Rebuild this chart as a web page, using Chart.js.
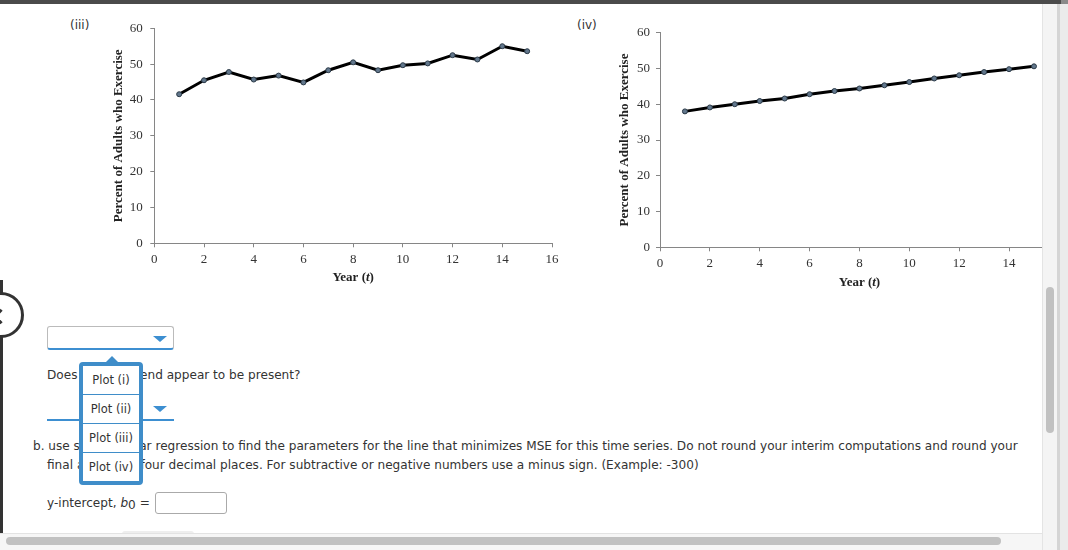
<!DOCTYPE html>
<html lang="en">
    <head>
        <meta charset="UTF-8">
        <title>Exercise time series</title>
        <style>
        html, body {
            margin: 0;
            padding: 0;
        }
        body {
            width: 1068px;
            height: 550px;
            overflow: hidden;
            position: relative;
            background: white;
            font-family: "DejaVu Sans", Verdana, sans-serif;
            font-size: 12.1px;
            color: #333;
        }
        .abs {
            position: absolute;
        }
        .line {
            position: absolute;
            white-space: nowrap;
            line-height: 16px;
        }
        .plot-label {
            position: absolute;
            font-size: 12px;
            color: #333;
        }
        .select {
            position: absolute;
            left: 47px;
            width: 127px;
            box-sizing: border-box;
        }
        .arrow {
            position: absolute;
            width: 0;
            height: 0;
            border-left: 7px solid transparent;
            border-right: 7px solid transparent;
            border-top: 6px solid #3d8fd1;
        }
        .popup {
            position: absolute;
            left: 79px;
            top: 362px;
            width: 64px;
            height: 123px;
            box-sizing: border-box;
            border: 4px solid #3f8dc9;
            border-radius: 4px;
            background: white;
        }
        .popup div {
            height: 28px;
            line-height: 28px;
            text-align: center;
            border-bottom: 1px solid #3f8dc9;
            font-size: 11.5px;
        }
        .popup div:last-child {
            border-bottom: none;
        }
        </style>
        <script src="https://cdn.jsdelivr.net/npm/chart.js"></script>
    </head>
    <body>
        <!-- window chrome -->
        <div class="abs" style="left:0;top:0;width:1061px;height:4px;background:#4b4b4b"></div>
        <div class="abs" style="left:1061px;top:0;width:7px;height:4px;background:#8a8a8a"></div>

        <div class="plot-label" style="left:70px;top:18px">(iii)</div>
        <div class="plot-label" style="left:577px;top:18px">(iv)</div>

        <div class="abs" style="left:100px;top:0;width:480px;height:300px">
            <canvas id="chart3" width="480" height="300"></canvas>
        </div>
        <div class="abs" style="left:590px;top:0;width:452px;height:300px;overflow:hidden">
            <canvas id="chart4" width="500" height="300"></canvas>
        </div>

        <!-- nav button on the left edge -->
        <div class="abs" style="left:0;top:280px;width:3px;height:253px;background:#333"></div>
        <div class="abs" style="left:-22px;top:292px;width:40px;height:40px;border:3px solid #333;border-radius:50%;background:white"></div>
        <div class="abs" style="left:-5px;top:311px;width:8px;height:8px;border-left:3px solid #333;border-bottom:3px solid #333;transform:rotate(45deg)"></div>

        <!-- question form -->
        <div class="select" style="top:326px;height:24px;border:1px solid #bbb;border-bottom:2px solid #3d8fd1;border-radius:3px"></div>
        <div class="arrow" style="left:153px;top:336px"></div>

        <div class="line" style="left:47px;top:367px">Does a linear trend appear to be present?</div>

        <div class="select" style="top:419px;height:2px;background:#3d8fd1"></div>
        <div class="arrow" style="left:153px;top:406px"></div>

        <div class="line" style="left:33px;top:438px">b. use simple linear regression to find the parameters for the line that minimizes MSE for this time series. Do not round your interim computations and round your</div>
        <div class="line" style="left:47px;top:457px">final answer to four decimal places. For subtractive or negative numbers use a minus sign. (Example: -300)</div>

        <div class="line" style="left:47px;top:495px">y-intercept, <i>b</i><span style="position:relative;top:2px">0</span> =</div>
        <div class="abs" style="left:155px;top:492px;width:72px;height:22px;box-sizing:border-box;border:1px solid #aaa;border-radius:3px"></div>

        <div class="abs" style="left:106px;top:356px;width:0;height:0;border-left:6px solid transparent;border-right:6px solid transparent;border-bottom:6px solid #3f8dc9"></div>
        <div class="popup">
            <div>Plot (i)</div>
            <div>Plot (ii)</div>
            <div>Plot (iii)</div>
            <div>Plot (iv)</div>
        </div>

        <!-- bottom and right scroll areas -->
        <div class="abs" style="left:122px;top:531px;width:72px;height:3px;background:#eee;border-radius:3px 3px 0 0"></div>
        <div class="abs" style="left:0;top:533px;width:1042px;height:17px;background:#f6f6f6;border-top:1px solid #e3e3e3"></div>
        <div class="abs" style="left:6px;top:537px;width:995px;height:8px;background:#c1c1c1;border-radius:4px"></div>
        <div class="abs" style="left:1042px;top:4px;width:15px;height:546px;background:#f4f4f4;border-left:1px solid #e4e4e4"></div>
        <div class="abs" style="left:1057px;top:4px;width:3px;height:546px;background:#d5d5d5"></div>
        <div class="abs" style="left:1060px;top:4px;width:8px;height:546px;background:#ebebeb"></div>
        <div class="abs" style="left:1046px;top:287px;width:8px;height:146px;background:#c1c1c1;border-radius:4px"></div>

        <script>
        const years = [1, 2, 3, 4, 5, 6, 7, 8, 9, 10, 11, 12, 13, 14, 15];
        // plot (iii): percent of adults who exercise, bumpy upward trend
        const exerciseIII = [41.6, 45.5, 47.8, 45.7, 46.8, 44.9, 48.3, 50.5, 48.3, 49.7, 50.2, 52.5, 51.3, 55.0, 53.6];
        // plot (iv): steady linear trend
        const exerciseIV = [38.0, 39.1, 40.0, 40.9, 41.6, 42.8, 43.7, 44.4, 45.3, 46.2, 47.2, 48.1, 49.0, 49.8, 50.6];
        const yTitle = 'Percent of Adults who Exercise';
        // x title pieces: "Year (" + italic "t" + ")"
        const xTitleParts = ['Year (', 't', ')'];

        const AXIS = '#868686';
        const SERIF = '"Liberation Serif", "Times New Roman", serif';
        const TICK_FONT = {family: SERIF, size: 13};
        const TITLE_FONT = {family: SERIF, size: 13, weight: 'bold'};

        // draws the x axis title with the italic t, centred under the plot area
        const xTitlePlugin = {
            id: 'xTitle',
            afterDraw(chart, args, opts) {
                const ctx = chart.ctx;
                const fonts = ['bold 13px ' + SERIF, 'italic bold 13px ' + SERIF, 'bold 13px ' + SERIF];
                const widths = xTitleParts.map((p, i) => { ctx.font = fonts[i]; return ctx.measureText(p).width; });
                const total = widths.reduce((a, b) => a + b, 0);
                let x = (chart.chartArea.left + chart.chartArea.right) / 2 - total / 2;
                ctx.save();
                ctx.fillStyle = '#222';
                ctx.textBaseline = 'middle';
                ctx.textAlign = 'left';
                xTitleParts.forEach((p, i) => {
                    ctx.font = fonts[i];
                    ctx.fillText(p, x, opts.y);
                    x += widths[i];
                });
                ctx.restore();
            }
        };

        function makeChart(id, values, cfg) {
            return new Chart(document.getElementById(id), {
                type: 'scatter',
                data: {
                    datasets: [{
                        data: years.map((t, i) => ({x: t, y: values[i]})),
                        showLine: true,
                        borderColor: '#000',
                        borderWidth: 3,
                        pointRadius: 2.5,
                        pointBackgroundColor: '#62778c',
                        pointBorderColor: '#2a3947',
                        pointBorderWidth: 1,
                    }]
                },
                plugins: [xTitlePlugin],
                options: {
                    responsive: false,
                    animation: false,
                    layout: {
                        padding: cfg.padding
                    },
                    plugins: {
                        legend: {display: false},
                        tooltip: {enabled: false},
                        xTitle: {y: cfg.xTitleY}
                    },
                    scales: {
                        x: {
                            type: 'linear',
                            min: 0,
                            max: 16,
                            afterFit: s => { s.height = cfg.xHeight; },
                            ticks: {stepSize: 2, includeBounds: false, color: '#333', font: TICK_FONT, padding: cfg.xPad, maxRotation: 0},
                            grid: {drawOnChartArea: false, tickLength: 4, color: AXIS},
                            border: {color: AXIS}
                        },
                        y: {
                            min: 0,
                            max: 60,
                            afterFit: s => { s.width = cfg.yWidth; },
                            ticks: {stepSize: 10, color: '#333', font: TICK_FONT, padding: cfg.yPad},
                            grid: {drawOnChartArea: false, tickLength: 4, color: AXIS},
                            border: {color: AXIS},
                            title: {display: true, text: yTitle, color: '#222', font: TITLE_FONT, padding: {top: cfg.yTitlePad, bottom: 0}}
                        }
                    }
                }
            });
        }

        makeChart('chart3', exerciseIII, {
            padding: {left: 0, top: 28.3, right: 28, bottom: 0},
            xHeight: 56.7, yWidth: 54.3,
            xPad: 4, yPad: 7.6,
            xTitleY: 277.7, yTitlePad: 11.2
        });
        makeChart('chart4', exerciseIV, {
            padding: {left: 0, top: 32.7, right: 31.1, bottom: 0},
            xHeight: 52.7, yWidth: 70,
            xPad: 4.5, yPad: 6,
            xTitleY: 282.3, yTitlePad: 27.2
        });
        </script>
    </body>
</html>
